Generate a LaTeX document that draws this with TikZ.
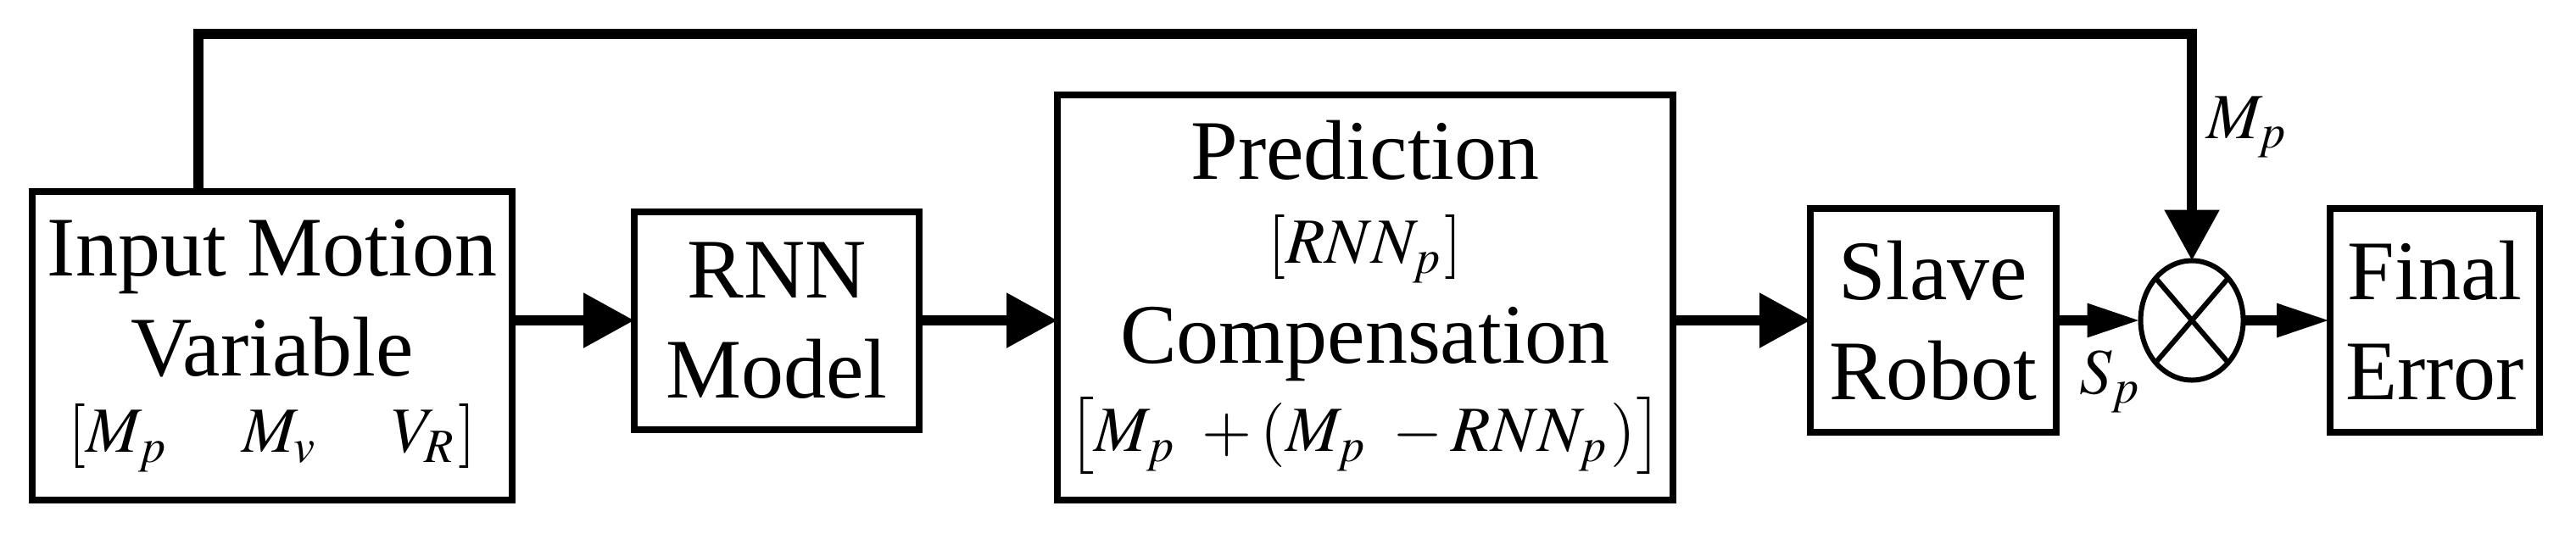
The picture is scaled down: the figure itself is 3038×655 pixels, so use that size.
\documentclass[tikz,border=0pt]{standalone}
\usepackage{mathptmx}
\usepackage{fontspec}
\setmainfont{Liberation Serif}
\usetikzlibrary{arrows.meta,shapes.geometric}
\newcommand\smallmath[1]{{\fontsize{7.6pt}{9pt}\selectfont$#1$}}
\tikzset{
  blk/.style={draw, line width=0.8pt, rectangle, inner sep=0pt, outer sep=0pt, align=center,
    font=\fontsize{10pt}{11.8pt}\selectfont},
  conn/.style={line width=1.2pt},
  bigtip/.style={-{Triangle[length=6pt,width=6.2pt]}},
  smalltip/.style={-{Triangle[length=6.3pt,width=3.7pt]}},
  lbl/.style={inner sep=0pt, font=\fontsize{7.6pt}{9pt}\selectfont},
}
\begin{document}
\begin{tikzpicture}[x=0.1pt,y=-0.1pt]
\useasboundingbox (0,0) rectangle (3038,655);
\node[blk, minimum width=56.6pt, minimum height=36.4pt] (inp) at (321,408)
  {Input Motion\\Variable\\[-2.8pt]\smallmath{[M_p\hspace{8.5pt}M_v\hspace{8.5pt}V_R]}};
\node[blk, minimum width=33.6pt, minimum height=25.7pt] (rnn) at (916,378)
  {RNN\\Model};
\node[blk, minimum width=72.6pt, minimum height=47.8pt] (pred) at (1610,351)
  {Prediction\\[-1.9pt]\smallmath{[RNN_p]}\\Compensation\\[-1.4pt]\smallmath{\bigl[M_p\;+(M_p\;-RNN_p)\bigr]}};
\node[blk, minimum width=29pt, minimum height=26.4pt] (slave) at (2280,378)
  {Slave\\Robot};
\node[draw, ellipse, line width=0.6pt, minimum width=12.1pt, minimum height=14.1pt, inner sep=0pt, outer sep=0pt] (circ) at (2585,378) {};
\node[blk, minimum width=24.7pt, minimum height=26.4pt] (final) at (2871.5,378)
  {Final\\Error};
\draw[line width=0.6pt] (circ.north east) -- (circ.south west);
\draw[line width=0.6pt] (circ.north west) -- (circ.south east);
\coordinate (tap) at (234,40);
\draw[conn,bigtip] (inp.east |- rnn.west) -- (rnn.west);
\draw[conn,bigtip] (rnn.east) -- (rnn.east -| pred.west);
\draw[conn,bigtip] (slave.west -| pred.east) -- (slave.west);
\draw[conn,smalltip] (slave.east) -- (circ.west);
\draw[conn,smalltip] (circ.east) -- (final.west);
\draw[conn,bigtip] (tap |- inp.north) -- (tap) -| (circ.north);
\node[lbl, anchor=base west] (mplbl) at (2600,163) {$M_p$};
\node[lbl, anchor=base west] (splbl) at (2450,464) {$S_p$};
\end{tikzpicture}
\end{document}
